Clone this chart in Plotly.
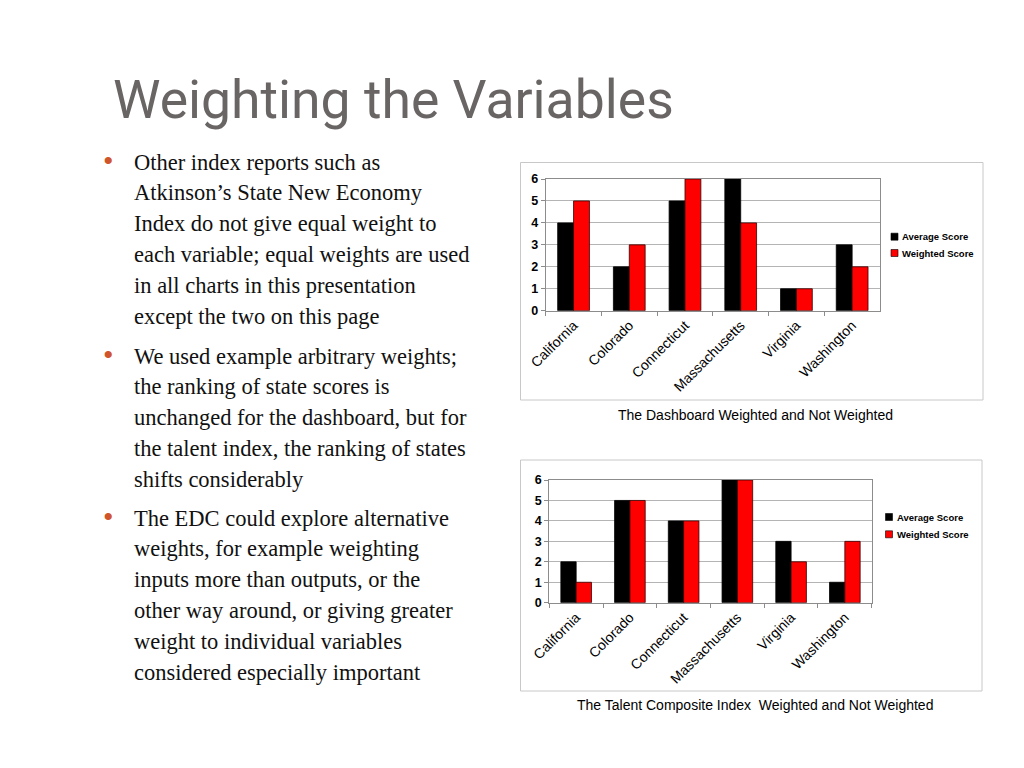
import plotly.graph_objects as go

W, H = 1024, 768
OX, OY = 8, 8  # page body margin offset compensation

states = ["California", "Colorado", "Connecticut", "Massachusetts", "Virginia", "Washington"]
dash_avg = [4, 2, 5, 6, 1, 3]
dash_wtd = [5, 3, 6, 4, 1, 2]
talent_avg = [2, 5, 4, 6, 3, 1]
talent_wtd = [1, 5, 4, 6, 2, 3]
series_names = ["Average Score", "Weighted Score"]
y_ticks = [0, 1, 2, 3, 4, 5, 6]

title_text = "Weighting the Variables"
bullets = [
    ["Other index reports such as", "Atkinson\u2019s State New Economy", "Index do not give equal weight to",
     "each variable; equal weights are used", "in all charts in this presentation", "except the two on this page"],
    ["We used example arbitrary weights;", "the ranking of state scores is",
     "unchanged for the dashboard, but for", "the talent index, the ranking of states",
     "shifts considerably"],
    ["The EDC could explore alternative", "weights, for example weighting",
     "inputs more than outputs, or the", "other way around, or giving greater",
     "weight to individual variables", "considered especially important"],
]
captions = ["The Dashboard Weighted and Not Weighted",
            "The Talent Composite Index  Weighted and Not Weighted"]

BLACK = "#000000"
RED = "#ff0000"


def px(x):
    return (x - OX) / W


def py(y):
    return 1 - (y - OY) / H


fig = go.Figure()
for xa, ya, avg, wtd in [("x", "y", dash_avg, dash_wtd), ("x2", "y2", talent_avg, talent_wtd)]:
    fig.add_trace(go.Bar(x=states, y=avg, name=series_names[0],
                         marker=dict(color=BLACK, line=dict(color="#000", width=0.8)),
                         xaxis=xa, yaxis=ya, showlegend=False))
    fig.add_trace(go.Bar(x=states, y=wtd, name=series_names[1],
                         marker=dict(color=RED, line=dict(color="#300", width=0.8)),
                         xaxis=xa, yaxis=ya, showlegend=False))

axis_common_x = dict(type="category", showline=True, mirror=True, linecolor="#8c8c8c", linewidth=1,
                     ticks="outside", tickson="boundaries", ticklen=4, tickcolor="#8c8c8c",
                     tickangle=-45, tickfont=dict(family="Liberation Sans, Arial", size=14, color="#000"),
                     showgrid=False, zeroline=False, automargin=False, fixedrange=True)
axis_common_y = dict(range=[0, 6], tickvals=y_ticks, showline=True, mirror=True, linecolor="#8c8c8c", linewidth=1,
                     ticks="outside", ticklen=4, tickcolor="#8c8c8c", showgrid=True, gridcolor="#b4b4b4",
                     gridwidth=1, zeroline=False, automargin=False,
                     tickfont=dict(family="Liberation Sans, Arial", size=12.5, color="#000", weight="bold"),
                     fixedrange=True)

shapes = []
annotations = []

# chart frames
for (x0, y0, x1, y1) in [(520.5, 162.5, 983, 400), (520.5, 460, 982, 691)]:
    shapes.append(dict(type="rect", xref="paper", yref="paper", x0=px(x0), x1=px(x1), y0=py(y1), y1=py(y0),
                       line=dict(color="#c8c8c8", width=1), fillcolor="rgba(0,0,0,0)", layer="below"))

# custom legends
for sx, ys in [(891, (236.7, 253)), (885.5, (517, 534.3))]:
    for name, col, yc in zip(series_names, [BLACK, RED], ys):
        shapes.append(dict(type="rect", xref="paper", yref="paper", x0=px(sx), x1=px(sx + 7),
                           y0=py(yc + 3.5), y1=py(yc - 3.5), fillcolor=col, line=dict(color="#000", width=0.6)))
        annotations.append(dict(text=name, xref="paper", yref="paper", x=px(sx + 9), y=py(yc),
                                xanchor="left", yanchor="middle", showarrow=False,
                                font=dict(family="Liberation Sans, Arial", size=9.5, color="#000", weight="bold")))

# captions
for cap, yc in zip(captions, [415, 705]):
    annotations.append(dict(text=cap, xref="paper", yref="paper", x=px(755), y=py(yc), xanchor="center",
                            yanchor="middle", showarrow=False,
                            font=dict(family="Liberation Sans, Arial", size=14, color="#000")))

# title
annotations.append(dict(text=title_text, xref="paper", yref="paper", x=px(111), y=py(99), xanchor="left",
                        yanchor="middle", showarrow=False,
                        font=dict(family="Roboto", size=53.5, color="#6a6565")))

# bullets
line_starts = [162, 356, 518]
spacing = 30.8
for lines, y0 in zip(bullets, line_starts):
    annotations.append(dict(text="\u2022", xref="paper", yref="paper", x=px(108), y=py(y0 - 1.5), xanchor="center",
                            yanchor="middle", showarrow=False,
                            font=dict(family="Liberation Serif", size=30, color="#d0552a")))
    for i, ln in enumerate(lines):
        annotations.append(dict(text=ln, xref="paper", yref="paper", x=px(132), y=py(y0 + i * spacing),
                                xanchor="left", yanchor="middle", showarrow=False,
                                font=dict(family="Liberation Serif, Times New Roman", size=22.5, color="#111")))

fig.update_layout(
    template="none", autosize=False,
    width=W, height=H, margin=dict(l=0, r=0, t=0, b=0, pad=0), paper_bgcolor="#fff", plot_bgcolor="#fff",
    barmode="group", bargap=0.43, bargroupgap=0,
    xaxis=dict(domain=[px(545.7), px(880)], anchor="y", **axis_common_x),
    yaxis=dict(domain=[py(310.7), py(179)], anchor="x", **axis_common_y),
    xaxis2=dict(domain=[px(549.3), px(871.7)], anchor="y2", **axis_common_x),
    yaxis2=dict(domain=[py(602.7), py(480)], anchor="x2", **axis_common_y),
    shapes=shapes, annotations=annotations, showlegend=False,
)

fig.write_html("out.html", config={"displayModeBar": False, "responsive": False})
